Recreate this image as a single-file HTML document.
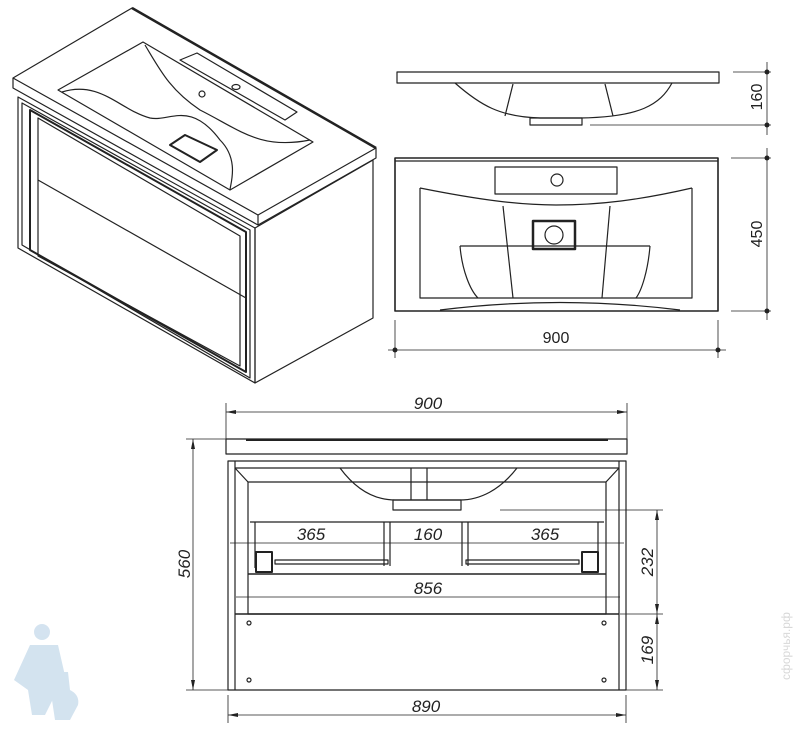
<!DOCTYPE html>
<html><head><meta charset="utf-8"><style>
html,body{margin:0;padding:0;background:#fff;}
svg{display:block;}
text{font-family:"Liberation Sans",sans-serif;fill:#222;}
.it{font-style:italic;font-size:17px;}
</style></head><body>
<svg width="802" height="734" viewBox="0 0 802 734" xmlns="http://www.w3.org/2000/svg">
<g fill="none" stroke="#222" stroke-width="1.2" stroke-linejoin="round">
<!-- Isometric -->
<polygon points="132,8 376,148 258,215 13,78" fill="#fff"/>
<polyline points="13,78 13,88 258,225 376,158 376,148"/>
<line x1="258" y1="215" x2="258" y2="225"/>
<line x1="132" y1="8" x2="376" y2="148" stroke-width="2.5"/>
<polygon points="18,97 255,228 255,383 18,248"/>
<polygon points="255,228 373,160 373,318 255,383"/>
<polygon points="22,103 250,230 250,378 22,245"/>
<polygon points="30,110 246,232 246,372 30,250" stroke-width="2"/>
<polygon points="38,118 240,236 240,366 38,256"/>
<line x1="38" y1="180" x2="246" y2="298"/>
<!-- basin -->
<polygon points="143,42 313,142 230,190 58,90"/>
<polygon points="180,60 197,53 297,112 285,120"/>
<path d="M62,92 C100,80 120,110 150,118 C170,122 190,100 220,140 C240,160 230,185 230,190"/>
<path d="M145,45 C160,70 170,90 200,110 C240,130 260,150 310,140"/>
<polygon points="170,145 185,135 217,150 200,162" stroke-width="2"/>
<circle cx="202" cy="94" r="3"/><ellipse cx="236" cy="87" rx="4" ry="2.5"/>
<!-- side view -->
<rect x="397" y="72" width="322" height="11"/>
<path d="M455,83 C480,105 500,117 540,118 L580,118 C640,117 660,105 672,83"/>
<rect x="530" y="118" width="52" height="7"/>
<line x1="513" y1="84" x2="505" y2="116"/><line x1="605" y1="84" x2="613" y2="116"/>
<line x1="733" y1="72" x2="771" y2="72" stroke-width="0.8"/>
<line x1="590" y1="125" x2="771" y2="125" stroke-width="0.8"/>
<line x1="767" y1="62" x2="767" y2="135" stroke-width="0.8"/>
<!-- plan view -->
<rect x="395" y="158" width="323" height="153" stroke-width="1.6"/>
<line x1="395" y1="161" x2="718" y2="161"/>
<rect x="495" y="167" width="122" height="27"/>
<circle cx="557" cy="180" r="6"/>
<path d="M420,188 C480,200 520,205 556,205 C600,205 640,200 692,188"/>
<polyline points="420,188 420,298 692,298 692,188"/>
<path d="M460,246 L650,246 M460,246 C462,270 470,290 478,298 M650,246 C648,270 642,290 636,298"/>
<line x1="503" y1="206" x2="513" y2="298"/><line x1="610" y1="206" x2="602" y2="298"/>
<path d="M440,310 C520,300 600,300 680,310"/>
<rect x="533" y="221" width="42" height="28" stroke-width="2.5"/>
<circle cx="554" cy="235" r="9"/>
<line x1="731" y1="158" x2="771" y2="158" stroke-width="0.8"/>
<line x1="731" y1="311" x2="771" y2="311" stroke-width="0.8"/>
<line x1="767" y1="148" x2="767" y2="320" stroke-width="0.8"/>
<line x1="388" y1="350" x2="726" y2="350" stroke-width="0.8"/>
<line x1="395" y1="320" x2="395" y2="358" stroke-width="0.8"/>
<line x1="718" y1="320" x2="718" y2="358" stroke-width="0.8"/>
<!-- front view -->
<line x1="226" y1="412" x2="627" y2="412" stroke-width="0.8"/>
<line x1="226" y1="403" x2="226" y2="454" stroke-width="0.8"/>
<line x1="627" y1="403" x2="627" y2="454" stroke-width="0.8"/>
<rect x="226" y="439" width="401" height="15"/>
<line x1="246" y1="440" x2="608" y2="440" stroke-width="2"/>
<rect x="228" y="461" width="398" height="229"/>
<line x1="235" y1="461" x2="235" y2="690"/><line x1="619" y1="461" x2="619" y2="690"/>
<polyline points="235,468 619,468"/>
<line x1="235" y1="468" x2="248" y2="482"/><line x1="619" y1="468" x2="606" y2="482"/>
<rect x="248" y="482" width="358" height="132"/>
<path d="M340,468 C360,495 380,500 395,500 L460,500 C480,500 500,490 517,468"/>
<rect x="393" y="500" width="68" height="10"/>
<line x1="411" y1="468" x2="411" y2="500"/><line x1="427" y1="468" x2="427" y2="500"/>
<line x1="250" y1="522" x2="604" y2="522"/>
<line x1="384" y1="522" x2="384" y2="566"/><line x1="390" y1="522" x2="390" y2="566"/>
<line x1="462" y1="522" x2="462" y2="566"/><line x1="468" y1="522" x2="468" y2="566"/>
<line x1="255" y1="522" x2="255" y2="568"/><line x1="598" y1="522" x2="598" y2="568"/>
<rect x="275" y="560" width="113" height="4"/><rect x="466" y="560" width="113" height="4"/>
<rect x="256" y="552" width="16" height="20" stroke-width="2"/><rect x="582" y="552" width="16" height="20" stroke-width="2"/>
<line x1="248" y1="574" x2="606" y2="574" stroke-width="1.6"/>
<line x1="230" y1="543" x2="624" y2="543" stroke-width="0.8"/>
<line x1="236" y1="597" x2="620" y2="597" stroke-width="0.8"/>
<line x1="235" y1="614" x2="619" y2="614" stroke-width="1.4"/>
<circle cx="249" cy="623" r="2"/><circle cx="604" cy="623" r="2"/>
<circle cx="249" cy="680" r="2"/><circle cx="604" cy="680" r="2"/>
<line x1="186" y1="439" x2="226" y2="439" stroke-width="0.8"/>
<line x1="186" y1="690" x2="228" y2="690" stroke-width="0.8"/>
<line x1="193" y1="439" x2="193" y2="690" stroke-width="0.8"/>
<line x1="500" y1="510" x2="663" y2="510" stroke-width="0.8"/>
<line x1="620" y1="614" x2="663" y2="614" stroke-width="0.8"/>
<line x1="620" y1="690" x2="663" y2="690" stroke-width="0.8"/>
<line x1="657" y1="510" x2="657" y2="690" stroke-width="0.8"/>
<line x1="228" y1="695" x2="228" y2="723" stroke-width="0.8"/>
<line x1="626" y1="695" x2="626" y2="723" stroke-width="0.8"/>
<line x1="228" y1="715" x2="626" y2="715" stroke-width="0.8"/>
</g>
<g fill="#222">
<circle cx="767" cy="72" r="2.5"/><circle cx="767" cy="125" r="2.5"/>
<circle cx="767" cy="158" r="2.5"/><circle cx="767" cy="311" r="2.5"/>
<circle cx="395" cy="350" r="2.5"/><circle cx="718" cy="350" r="2.5"/>
<polygon points="226,412 236,410 236,414"/><polygon points="627,412 617,410 617,414"/>
<polygon points="228,715 238,713 238,717"/><polygon points="626,715 616,713 616,717"/>
<polygon points="193,439 191,449 195,449"/><polygon points="193,690 191,680 195,680"/>
<polygon points="657,510 655,520 659,520"/><polygon points="657,614 655,604 659,604"/>
<polygon points="657,614 655,624 659,624"/><polygon points="657,690 655,680 659,680"/>
</g>
<text x="556" y="343" font-size="16" text-anchor="middle">900</text>
<text transform="translate(762,97) rotate(-90)" font-size="16" text-anchor="middle">160</text>
<text transform="translate(762,234) rotate(-90)" font-size="16" text-anchor="middle">450</text>
<text class="it" x="428" y="409" text-anchor="middle">900</text>
<text class="it" x="311" y="540" text-anchor="middle">365</text>
<text class="it" x="428" y="540" text-anchor="middle">160</text>
<text class="it" x="545" y="540" text-anchor="middle">365</text>
<text class="it" x="428" y="594" text-anchor="middle">856</text>
<text class="it" x="426" y="712" text-anchor="middle">890</text>
<text class="it" transform="translate(190,564) rotate(-90)" text-anchor="middle">560</text>
<text class="it" transform="translate(653,562) rotate(-90)" text-anchor="middle">232</text>
<text class="it" transform="translate(653,650) rotate(-90)" text-anchor="middle">169</text>
<g fill="#cfe0ee" opacity="0.9">
<circle cx="42" cy="632" r="8"/>
<path d="M30,645 L58,645 L66,680 L55,695 L45,715 L32,715 L28,690 L14,680 Z"/>
<path d="M52,672 L68,672 L70,690 Q80,695 78,705 L70,720 L55,720 L52,700 Z"/>
</g>
<text transform="translate(790,680) rotate(-90)" font-size="12" fill="#d8d8d8" style="fill:#d8d8d8">сфорчья.рф</text>
</svg>
</body></html>
